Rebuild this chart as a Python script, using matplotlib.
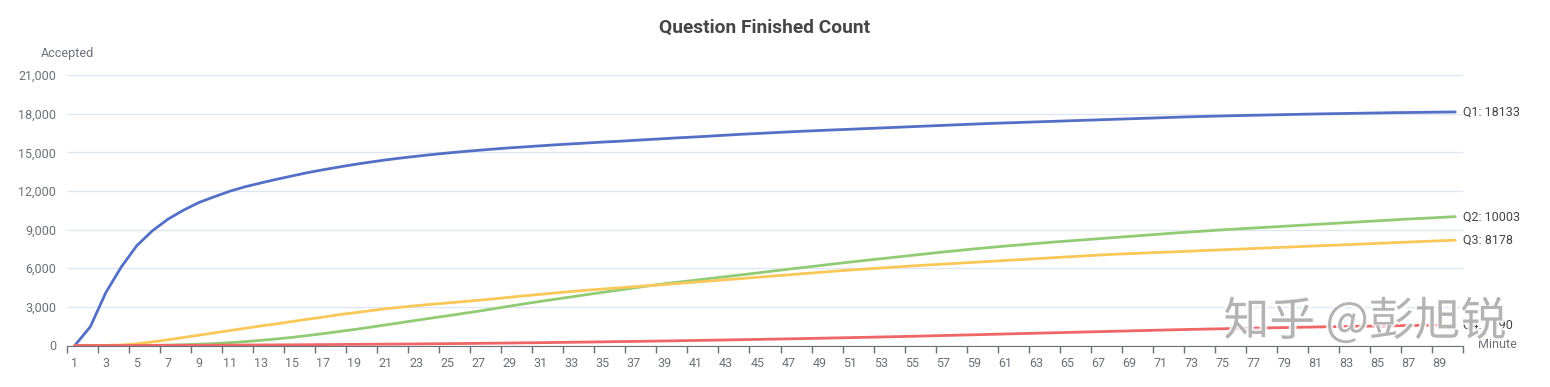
import matplotlib.pyplot as plt
import matplotlib.patheffects as pe

minutes = list(range(1, 91))

q1 = [0, 1450, 4100, 6100, 7750, 8900, 9800, 10500, 11100, 11550,
      11980, 12330, 12620, 12900, 13160, 13420, 13640, 13850, 14050, 14230,
      14400, 14550, 14690, 14820, 14940, 15050, 15150, 15250, 15340, 15420,
      15500, 15580, 15650, 15720, 15790, 15850, 15920, 15990, 16060, 16130,
      16190, 16260, 16330, 16400, 16460, 16520, 16580, 16640, 16690, 16740,
      16790, 16840, 16890, 16940, 16990, 17040, 17090, 17140, 17190, 17240,
      17280, 17320, 17360, 17400, 17440, 17480, 17520, 17560, 17600, 17640,
      17680, 17720, 17760, 17790, 17820, 17850, 17875, 17900, 17925, 17950,
      17975, 17995, 18015, 18035, 18055, 18075, 18090, 18105, 18120, 18133]

q2 = [0, 0, 0, 0, 5, 15, 30, 60, 100, 150,
      220, 300, 400, 510, 630, 770, 920, 1080, 1240, 1410,
      1590, 1770, 1950, 2130, 2300, 2480, 2660, 2850, 3050, 3240,
      3420, 3600, 3770, 3950, 4120, 4290, 4460, 4630, 4790, 4930,
      5070, 5210, 5350, 5490, 5630, 5780, 5920, 6060, 6200, 6340,
      6480, 6610, 6740, 6870, 7000, 7130, 7260, 7380, 7500, 7610,
      7720, 7820, 7920, 8020, 8110, 8200, 8290, 8380, 8470, 8560,
      8650, 8740, 8820, 8900, 8980, 9050, 9120, 9190, 9260, 9330,
      9400, 9470, 9540, 9610, 9680, 9750, 9820, 9880, 9940, 10003]

q3 = [0, 0, 10, 40, 130, 280, 440, 620, 800, 980,
      1160, 1340, 1520, 1680, 1860, 2040, 2200, 2390, 2540, 2690,
      2850, 2970, 3090, 3200, 3300, 3400, 3510, 3620, 3740, 3860,
      3970, 4080, 4190, 4290, 4380, 4470, 4560, 4650, 4730, 4825,
      4920, 5015, 5110, 5200, 5295, 5390, 5485, 5580, 5675, 5770,
      5860, 5940, 6020, 6100, 6180, 6250, 6320, 6390, 6460, 6530,
      6600, 6670, 6740, 6810, 6880, 6950, 7020, 7080, 7130, 7180,
      7230, 7280, 7330, 7380, 7430, 7480, 7530, 7580, 7630, 7680,
      7730, 7780, 7830, 7880, 7930, 7980, 8030, 8080, 8130, 8178]

q4 = [0, 0, 0, 2, 5, 8, 12, 16, 20, 25,
      30, 36, 42, 48, 55, 62, 70, 78, 86, 95,
      104, 113, 123, 133, 144, 155, 167, 180, 193, 207,
      221, 236, 251, 267, 283, 300, 317, 335, 353, 372,
      391, 411, 431, 452, 473, 495, 517, 540, 563, 587,
      611, 636, 662, 688, 715, 745, 775, 805, 835, 865,
      895, 925, 955, 985, 1015, 1045, 1075, 1105, 1135, 1165,
      1195, 1225, 1250, 1275, 1300, 1325, 1348, 1370, 1392, 1414,
      1436, 1456, 1476, 1496, 1514, 1532, 1550, 1565, 1578, 1590]

series_names = ["Q1", "Q2", "Q3", "Q4"]
colors = ["#5470c6", "#91cc75", "#fac858", "#ee6666"]

plt.rcParams['font.family'] = ['Roboto', 'Noto Sans CJK SC', 'DejaVu Sans']

W, H = 1550, 387
fig = plt.figure(figsize=(W / 100, H / 100), dpi=100)
ax = fig.add_axes([67 / W, (H - 345.5) / H, (1463 - 67) / W, (345.5 - 75) / H])

xs = list(range(len(minutes)))
for name, vals, c in zip(series_names, [q1, q2, q3, q4], colors):
    ax.plot(xs, vals, color=c, lw=2, solid_joinstyle='round', solid_capstyle='round', zorder=3)
    ax.annotate(f"{name}: {vals[-1]}", xy=(xs[-1], vals[-1]), xytext=(8, 0),
                textcoords='offset pixels', va='center', ha='left',
                fontsize=9, color='#444444', annotation_clip=False, zorder=4)

ax.set_xlim(-0.5, len(minutes) - 0.5)
ax.set_ylim(0, 21000)

# category axis: ticks on band edges, labels on every other band
ax.set_xticks([i - 0.5 for i in range(0, len(minutes) + 1, 2)])
ax.set_xticklabels([])
ax.set_xticks(xs[::2], minor=True)
ax.set_xticklabels([str(m) for m in minutes[::2]], minor=True)
ax.tick_params(axis='x', which='major', length=5, width=1, color='#6E7079', direction='out')
ax.tick_params(axis='x', which='minor', length=0, pad=8, labelsize=9, labelcolor='#6E7079')

yt = list(range(0, 21001, 3000))
ax.set_yticks(yt)
ax.set_yticklabels([f"{v:,}" for v in yt])
ax.tick_params(axis='y', length=0, pad=8, labelsize=9, labelcolor='#6E7079')
ax.grid(axis='y', color='#E0E6F1', lw=1)
ax.set_axisbelow(True)

for s in ['top', 'right', 'left']:
    ax.spines[s].set_visible(False)
ax.spines['bottom'].set_color('#6E7079')
ax.spines['bottom'].set_zorder(2)

fig.text(765 / W, 1 - 28 / H, "Question Finished Count", ha='center', va='center',
         fontsize=13.8, fontweight='bold', color='#464646')
fig.text(67 / W, 1 - 53 / H, "Accepted", ha='center', va='center', fontsize=9, color='#6E7079')
fig.text(1478 / W, 1 - 345 / H, "Minute", ha='left', va='center', fontsize=9, color='#6E7079')

# watermark
fig.text(1365 / W, 1 - 322 / H, "知乎 @彭旭锐", ha='center', va='center', fontsize=33,
         family=['Noto Sans CJK SC'], color='#a8a8a8', alpha=0.85, zorder=10,
         path_effects=[pe.withStroke(linewidth=3, foreground='white')])

fig.savefig("out.png", dpi=100)
